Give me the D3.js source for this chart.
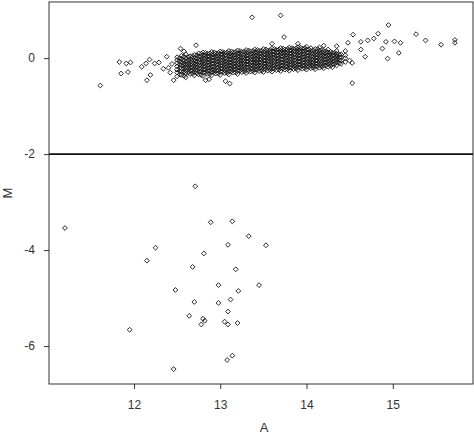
<!DOCTYPE html>
<html><head><meta charset="utf-8">
<script src="https://cdn.jsdelivr.net/npm/d3@7"></script>
<style>body{margin:0;background:#fff}</style></head>
<body><svg id="c" width="474" height="437"></svg>
<script>
const xTicks=[12,13,14,15];
const yTicks=[0,-2,-4,-6];
const cutoff=-2;
const outliers=[[11.20,-3.54],[12.71,-2.67],[12.89,-3.42],[13.14,-3.40],[13.33,-3.71],[13.53,-3.90],[13.09,-3.89],[12.25,-3.95],[12.81,-4.07],[12.15,-4.22],[12.68,-4.35],[13.18,-4.40],[12.98,-4.73],[13.45,-4.73],[12.48,-4.83],[13.21,-4.85],[13.12,-5.03],[12.70,-5.08],[12.98,-5.10],[13.09,-5.28],[12.64,-5.37],[12.80,-5.43],[12.82,-5.47],[12.78,-5.55],[13.05,-5.49],[13.09,-5.55],[13.20,-5.52],[11.95,-5.66],[13.14,-6.20],[13.08,-6.29],[12.46,-6.48]];
const sparse=[[11.61,-0.57],[11.83,-0.08],[11.85,-0.32],[11.91,-0.11],[11.96,-0.09],[11.93,-0.29],[12.09,-0.18],[12.14,-0.11],[12.18,-0.03],[12.15,-0.46],[12.19,-0.35],[12.24,-0.11],[12.29,-0.09],[12.34,-0.22],[12.38,0.03],[12.46,-0.46],[12.54,0.20],[12.72,0.27],[12.83,-0.46],[12.87,-0.44],[13.06,-0.48],[13.11,-0.53],[13.37,0.85],[13.70,0.89],[13.74,0.44],[14.54,0.49],[14.53,-0.52],[14.63,0.34],[14.71,0.37],[14.78,0.41],[14.83,0.51],[14.95,0.69],[14.88,0.20],[14.92,0.34],[14.94,-0.01],[15.02,0.35],[15.07,0.11],[15.09,0.32],[15.27,0.50],[15.38,0.37],[15.56,0.28],[15.72,0.38],[15.72,0.32],[14.63,0.18],[14.68,0.03],[14.53,-0.10],[14.48,0.32],[12.42,-0.30],[12.44,-0.12],[12.40,-0.20],[12.58,0.14],[13.60,0.30],[13.90,0.30],[14.20,0.26],[14.35,0.25],[14.45,0.15],[14.50,-0.05]];
const cloudA=[12.50,12.55,12.60,12.65,12.70,12.75,12.80,12.85,12.90,12.95,13.00,13.05,13.10,13.15,13.20,13.25,13.30,13.35,13.40,13.45,13.50,13.55,13.60,13.65,13.70,13.75,13.80,13.85,13.90,13.95,14.00,14.05,14.10,14.15,14.20,14.25,14.30,14.35,14.40,14.45];
const cloudM=[
[-0.38,-0.30,-0.24,-0.17,-0.10,-0.04,0.02],
[-0.35,-0.27,-0.21,-0.15,-0.09,-0.02,0.05],
[-0.40,-0.31,-0.25,-0.19,-0.13,-0.07,0.00,0.08],
[-0.33,-0.26,-0.20,-0.14,-0.08,-0.02,0.04],
[-0.36,-0.29,-0.23,-0.17,-0.11,-0.05,0.01,0.07],
[-0.34,-0.28,-0.22,-0.16,-0.10,-0.04,0.03,0.10],
[-0.37,-0.30,-0.24,-0.18,-0.12,-0.06,0.00,0.06,0.12],
[-0.33,-0.27,-0.21,-0.15,-0.09,-0.03,0.03,0.09],
[-0.36,-0.29,-0.23,-0.17,-0.11,-0.05,0.01,0.07,0.13],
[-0.32,-0.26,-0.20,-0.14,-0.08,-0.02,0.04,0.10],
[-0.35,-0.28,-0.22,-0.16,-0.10,-0.04,0.02,0.08,0.14],
[-0.31,-0.25,-0.19,-0.13,-0.07,-0.01,0.05,0.11],
[-0.34,-0.27,-0.21,-0.15,-0.09,-0.03,0.03,0.09,0.15],
[-0.30,-0.24,-0.18,-0.12,-0.06,0.00,0.06,0.12],
[-0.33,-0.26,-0.20,-0.14,-0.08,-0.02,0.04,0.10,0.16],
[-0.29,-0.23,-0.17,-0.11,-0.05,0.01,0.07,0.13],
[-0.31,-0.25,-0.19,-0.13,-0.07,-0.01,0.05,0.11,0.17],
[-0.28,-0.22,-0.16,-0.10,-0.04,0.02,0.08,0.14],
[-0.30,-0.24,-0.18,-0.12,-0.06,0.00,0.06,0.12,0.18],
[-0.27,-0.21,-0.15,-0.09,-0.03,0.03,0.09,0.15],
[-0.29,-0.23,-0.17,-0.11,-0.05,0.01,0.07,0.13,0.19],
[-0.26,-0.20,-0.14,-0.08,-0.02,0.04,0.10,0.16],
[-0.28,-0.22,-0.16,-0.10,-0.04,0.02,0.08,0.14,0.20],
[-0.25,-0.19,-0.13,-0.07,-0.01,0.05,0.11,0.17],
[-0.27,-0.21,-0.15,-0.09,-0.03,0.03,0.09,0.15,0.21],
[-0.24,-0.18,-0.12,-0.06,0.00,0.06,0.12,0.18],
[-0.26,-0.20,-0.14,-0.08,-0.02,0.04,0.10,0.16,0.22],
[-0.23,-0.17,-0.11,-0.05,0.01,0.07,0.13,0.19],
[-0.25,-0.19,-0.13,-0.07,-0.01,0.05,0.11,0.17,0.23],
[-0.22,-0.16,-0.10,-0.04,0.02,0.08,0.14,0.20],
[-0.24,-0.18,-0.12,-0.06,0.00,0.06,0.12,0.18,0.24],
[-0.21,-0.15,-0.09,-0.03,0.03,0.09,0.15,0.21],
[-0.23,-0.17,-0.11,-0.05,0.01,0.07,0.13,0.19],
[-0.20,-0.14,-0.08,-0.02,0.04,0.10,0.16,0.22],
[-0.21,-0.15,-0.09,-0.03,0.03,0.09,0.15],
[-0.18,-0.12,-0.06,0.00,0.06,0.12,0.18],
[-0.19,-0.13,-0.07,-0.01,0.05,0.11],
[-0.15,-0.09,-0.03,0.03,0.09,0.15],
[-0.12,-0.05,0.02,0.08],
[-0.08,0.00,0.06]];
const cloudA2=[12.53,12.58,12.63,12.68,12.73,12.78,12.83,12.88,12.93,12.98,13.03,13.08,13.13,13.18,13.23,13.28,13.33,13.38,13.43,13.48,13.53,13.58,13.63,13.68,13.73,13.78,13.83,13.88,13.93,13.98,14.03,14.08,14.13,14.18,14.23,14.28,14.33,14.38];
const cloudM2=[
[-0.34,-0.27,-0.20,-0.13,-0.06,0.00],
[-0.37,-0.28,-0.22,-0.16,-0.11,-0.04,0.03],
[-0.30,-0.23,-0.17,-0.11,-0.05,0.02],
[-0.32,-0.26,-0.20,-0.14,-0.08,-0.02,0.04],
[-0.31,-0.25,-0.19,-0.13,-0.07,-0.01,0.06],
[-0.35,-0.27,-0.21,-0.15,-0.09,-0.03,0.03,0.09],
[-0.30,-0.24,-0.18,-0.12,-0.06,0.00,0.06,0.11],
[-0.33,-0.26,-0.20,-0.14,-0.08,-0.02,0.04,0.10],
[-0.29,-0.23,-0.17,-0.11,-0.05,0.01,0.07,0.12],
[-0.32,-0.25,-0.19,-0.13,-0.07,-0.01,0.05,0.11],
[-0.28,-0.22,-0.16,-0.10,-0.04,0.02,0.08,0.13],
[-0.31,-0.24,-0.18,-0.12,-0.06,0.00,0.06,0.12],
[-0.27,-0.21,-0.15,-0.09,-0.03,0.03,0.09,0.14],
[-0.30,-0.23,-0.17,-0.11,-0.05,0.01,0.07,0.13],
[-0.26,-0.20,-0.14,-0.08,-0.02,0.04,0.10,0.15],
[-0.28,-0.22,-0.16,-0.10,-0.04,0.02,0.08,0.14],
[-0.25,-0.19,-0.13,-0.07,-0.01,0.05,0.11,0.16],
[-0.27,-0.21,-0.15,-0.09,-0.03,0.03,0.09,0.15],
[-0.24,-0.18,-0.12,-0.06,0.00,0.06,0.12,0.17],
[-0.26,-0.20,-0.14,-0.08,-0.02,0.04,0.10,0.16],
[-0.23,-0.17,-0.11,-0.05,0.01,0.07,0.13,0.18],
[-0.25,-0.19,-0.13,-0.07,-0.01,0.05,0.11,0.17],
[-0.22,-0.16,-0.10,-0.04,0.02,0.08,0.14,0.19],
[-0.24,-0.18,-0.12,-0.06,0.00,0.06,0.12,0.18],
[-0.21,-0.15,-0.09,-0.03,0.03,0.09,0.15,0.20],
[-0.23,-0.17,-0.11,-0.05,0.01,0.07,0.13,0.19],
[-0.20,-0.14,-0.08,-0.02,0.04,0.10,0.16,0.21],
[-0.22,-0.16,-0.10,-0.04,0.02,0.08,0.14,0.20],
[-0.19,-0.13,-0.07,-0.01,0.05,0.11,0.17,0.22],
[-0.21,-0.15,-0.09,-0.03,0.03,0.09,0.15,0.21],
[-0.18,-0.12,-0.06,0.00,0.06,0.12,0.18],
[-0.20,-0.14,-0.08,-0.02,0.04,0.10,0.16],
[-0.17,-0.11,-0.05,0.01,0.07,0.13,0.19],
[-0.18,-0.12,-0.06,0.00,0.06,0.12,0.17],
[-0.15,-0.09,-0.03,0.03,0.09,0.14],
[-0.16,-0.10,-0.04,0.02,0.08,0.13],
[-0.12,-0.06,0.00,0.06,0.11],
[-0.10,-0.04,0.02,0.07]];

const svg=d3.select("#c");
const L=49,R=473,T=2,B=384;
const x=d3.scaleLinear().domain([11.015,15.93]).range([L,R]);
const y=d3.scaleLinear().domain([-6.79,1.17]).range([B,T]);
const pts=[];
cloudA.forEach((a,i)=>cloudM[i].forEach(m=>pts.push([a,m])));
cloudA2.forEach((a,i)=>cloudM2[i].forEach(m=>pts.push([a,m])));
sparse.forEach(p=>pts.push(p));
outliers.forEach(p=>pts.push(p));
svg.append("rect").attr("x",L).attr("y",T).attr("width",R-L).attr("height",B-T).attr("fill","none").attr("stroke","#333").attr("stroke-width",1);
svg.append("g").attr("transform",`translate(0,${B})`).call(d3.axisBottom(x).tickValues(xTicks).tickSize(5).tickPadding(11).tickFormat(d3.format("d")))
 .call(g=>{g.select(".domain").remove();g.selectAll("text").attr("font-family","Liberation Sans, Arial").attr("font-size",12).attr("fill","#333");g.selectAll("line").attr("stroke","#333");});
svg.append("g").attr("transform",`translate(${L},0)`).call(d3.axisLeft(y).tickValues(yTicks).tickSize(5).tickPadding(9).tickFormat(d=>d===0?"0":"-"+Math.abs(d)))
 .call(g=>{g.select(".domain").remove();g.selectAll("text").attr("font-family","Liberation Sans, Arial").attr("font-size",12).attr("fill","#333");g.selectAll("line").attr("stroke","#333");});
svg.append("line").attr("x1",L).attr("x2",R).attr("y1",y(cutoff)).attr("y2",y(cutoff)).attr("stroke","#111").attr("stroke-width",1.6);
const r=2.4;
svg.append("g").selectAll("path").data(pts).join("path")
 .attr("d",d=>{const cx=x(d[0]),cy=y(d[1]);return `M${cx},${cy-r}L${cx+r},${cy}L${cx},${cy+r}L${cx-r},${cy}Z`;})
 .attr("fill","none").attr("stroke","#111").attr("stroke-width",0.9);
svg.append("text").attr("x",(L+R)/2+3).attr("y",432).attr("text-anchor","middle").attr("font-family","Liberation Sans, Arial").attr("font-size",13).attr("fill","#333").text("A");
svg.append("text").attr("transform",`translate(12,${(T+B)/2}) rotate(-90)`).attr("text-anchor","middle").attr("font-family","Liberation Sans, Arial").attr("font-size",13).attr("fill","#333").text("M");
</script></body></html>
